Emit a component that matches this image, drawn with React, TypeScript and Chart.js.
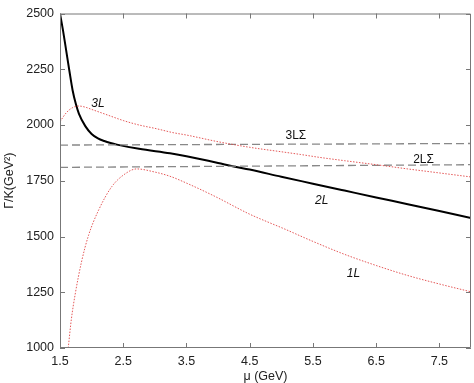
import React, { useEffect, useRef } from "react";
import { Chart, registerables } from "chart.js";

Chart.register(...registerables);

// μ (GeV) values and Γ/K (GeV²) for each curve
const twoLX = [1.5, 1.55, 1.6, 1.65, 1.7, 1.75, 1.8, 1.9, 2.0, 2.1, 2.2, 2.3, 2.4, 2.75, 3.24, 3.5, 4.0, 4.23, 4.5, 5.0, 5.5, 6.0, 6.5, 7.0, 7.5, 8.0];
const twoLY = [2500, 2420, 2330, 2240, 2155, 2095, 2050, 1995, 1960, 1940, 1928, 1919, 1912, 1893, 1873, 1860, 1830, 1815, 1800, 1768, 1737, 1706, 1675, 1645, 1614, 1583];

const threeLX = [1.5, 1.6, 1.7, 1.8, 1.9, 2.0, 2.25, 2.5, 2.75, 3.0, 3.3, 3.5, 4.0, 4.5, 5.0, 5.3, 5.6, 6.0, 6.5, 7.0, 7.5, 8.0];
const threeLY = [2015, 2055, 2078, 2085, 2080, 2070, 2045, 2020, 2000, 1985, 1965, 1955, 1925, 1900, 1880, 1868, 1855, 1840, 1822, 1803, 1785, 1767];

const oneLX = [1.63, 1.68, 1.74, 1.84, 1.95, 2.11, 2.32, 2.53, 2.71, 3.0, 3.24, 3.52, 3.95, 4.5, 4.82, 5.0, 5.5, 6.0, 6.5, 7.0, 7.5, 8.0];
const oneLY = [1000, 1130, 1241, 1386, 1504, 1618, 1724, 1781, 1803, 1789, 1770, 1737, 1680, 1600, 1561, 1540, 1478, 1420, 1370, 1325, 1287, 1252];

const sigmaX = [1.5, 8.0];
const threeLSigmaY = [1910, 1917];
const twoLSigmaY = [1810, 1822];

const xTicks = [1.5, 2.5, 3.5, 4.5, 5.5, 6.5, 7.5];

const labelTexts = ["3L", "3LΣ", "2LΣ", "2L", "1L"];
const labelX = [2.1, 5.23, 7.25, 5.64, 6.14];
const labelY = [2096, 1952, 1846, 1662, 1333];
const labelItalic = [true, false, false, true, true];

const pts = (xs: number[], ys: number[]) => xs.map((x, i) => ({ x, y: ys[i] }));

const FONT = "'Liberation Sans', Arial, Helvetica, sans-serif";

const framePlugin = {
  id: "frame",
  afterDatasetsDraw(chart: any) {
    const { ctx, chartArea: a, scales } = chart;
    const xs = scales.x;
    const ys = scales.y;
    ctx.save();
    ctx.strokeStyle = "#777";
    ctx.lineWidth = 1;
    ctx.beginPath();
    ctx.rect(a.left + 0.5, a.top + 0.5, a.right - a.left - 1, a.bottom - a.top - 1);
    ctx.stroke();
    const tl = 5;
    ctx.beginPath();
    xTicks.forEach((v) => {
      const px = Math.round(xs.getPixelForValue(v)) + 0.5;
      ctx.moveTo(px, a.bottom);
      ctx.lineTo(px, a.bottom - tl);
      ctx.moveTo(px, a.top);
      ctx.lineTo(px, a.top + tl);
    });
    ys.ticks.forEach((t: any) => {
      const py = Math.round(ys.getPixelForValue(t.value)) + 0.5;
      ctx.moveTo(a.left, py);
      ctx.lineTo(a.left + tl, py);
      ctx.moveTo(a.right, py);
      ctx.lineTo(a.right - tl, py);
    });
    ctx.stroke();

    ctx.fillStyle = "#111";
    ctx.textAlign = "center";
    ctx.textBaseline = "middle";
    labelTexts.forEach((txt, i) => {
      ctx.font = (labelItalic[i] ? "italic " : "") + "12px " + FONT;
      ctx.fillText(txt, xs.getPixelForValue(labelX[i]), ys.getPixelForValue(labelY[i]));
    });
    ctx.restore();
  },
};

export default function App() {
  const ref = useRef<HTMLCanvasElement>(null);
  useEffect(() => {
    document.body.style.margin = "0";
    const canvas = ref.current!;
    const red = "rgba(225,70,70,0.9)";
    const chart = new Chart(canvas, {
      type: "line",
      data: {
        datasets: [
          { data: pts(oneLX, oneLY), borderColor: red, borderWidth: 1, borderDash: [1.5, 1.5], pointRadius: 0, cubicInterpolationMode: "monotone" },
          { data: pts(threeLX, threeLY), borderColor: red, borderWidth: 1, borderDash: [1.5, 1.5], pointRadius: 0, cubicInterpolationMode: "monotone" },
          { data: pts(sigmaX, threeLSigmaY), borderColor: "#888", borderWidth: 1.3, borderDash: [8, 4], pointRadius: 0 },
          { data: pts(sigmaX, twoLSigmaY), borderColor: "#888", borderWidth: 1.3, borderDash: [8, 4], pointRadius: 0 },
          { data: pts(twoLX, twoLY), borderColor: "#000", borderWidth: 2, pointRadius: 0, cubicInterpolationMode: "monotone" },
        ],
      } as any,
      options: {
        animation: false,
        responsive: false,
        events: [],
        layout: { padding: { top: 6, right: 3, left: 0, bottom: 0 } },
        plugins: { legend: { display: false }, tooltip: { enabled: false } },
        scales: {
          x: {
            type: "linear",
            min: 1.5,
            max: 8,
            grid: { display: false, drawTicks: false },
            border: { display: false },
            afterBuildTicks: (s: any) => {
              s.ticks = xTicks.map((v) => ({ value: v }));
            },
            afterFit: (s: any) => {
              s.height = 35;
            },
            ticks: {
              padding: 6,
              color: "#222",
              font: { family: FONT, size: 12.5 },
              callback: (v: any) => Number(v).toFixed(1),
            },
            title: {
              display: true,
              text: "μ (GeV)",
              color: "#222",
              font: { family: FONT, size: 12.5, lineHeight: 1 },
              padding: { top: 0, bottom: 0 },
            },
          },
          y: {
            min: 1000,
            max: 2500,
            grid: { display: false, drawTicks: false },
            border: { display: false },
            afterFit: (s: any) => {
              s.width = 60;
            },
            ticks: {
              stepSize: 250,
              padding: 6,
              color: "#222",
              font: { family: FONT, size: 12.5 },
              callback: (v: any) => String(v),
            },
            title: {
              display: true,
              text: "Γ/K(GeV²)",
              color: "#222",
              font: { family: FONT, size: 12.5 },
              padding: { top: 2, bottom: 2 },
            },
          },
        },
      } as any,
      plugins: [framePlugin],
    });
    return () => chart.destroy();
  }, []);
  return <canvas ref={ref} width={474} height={383} style={{ display: "block" }} />;
}
